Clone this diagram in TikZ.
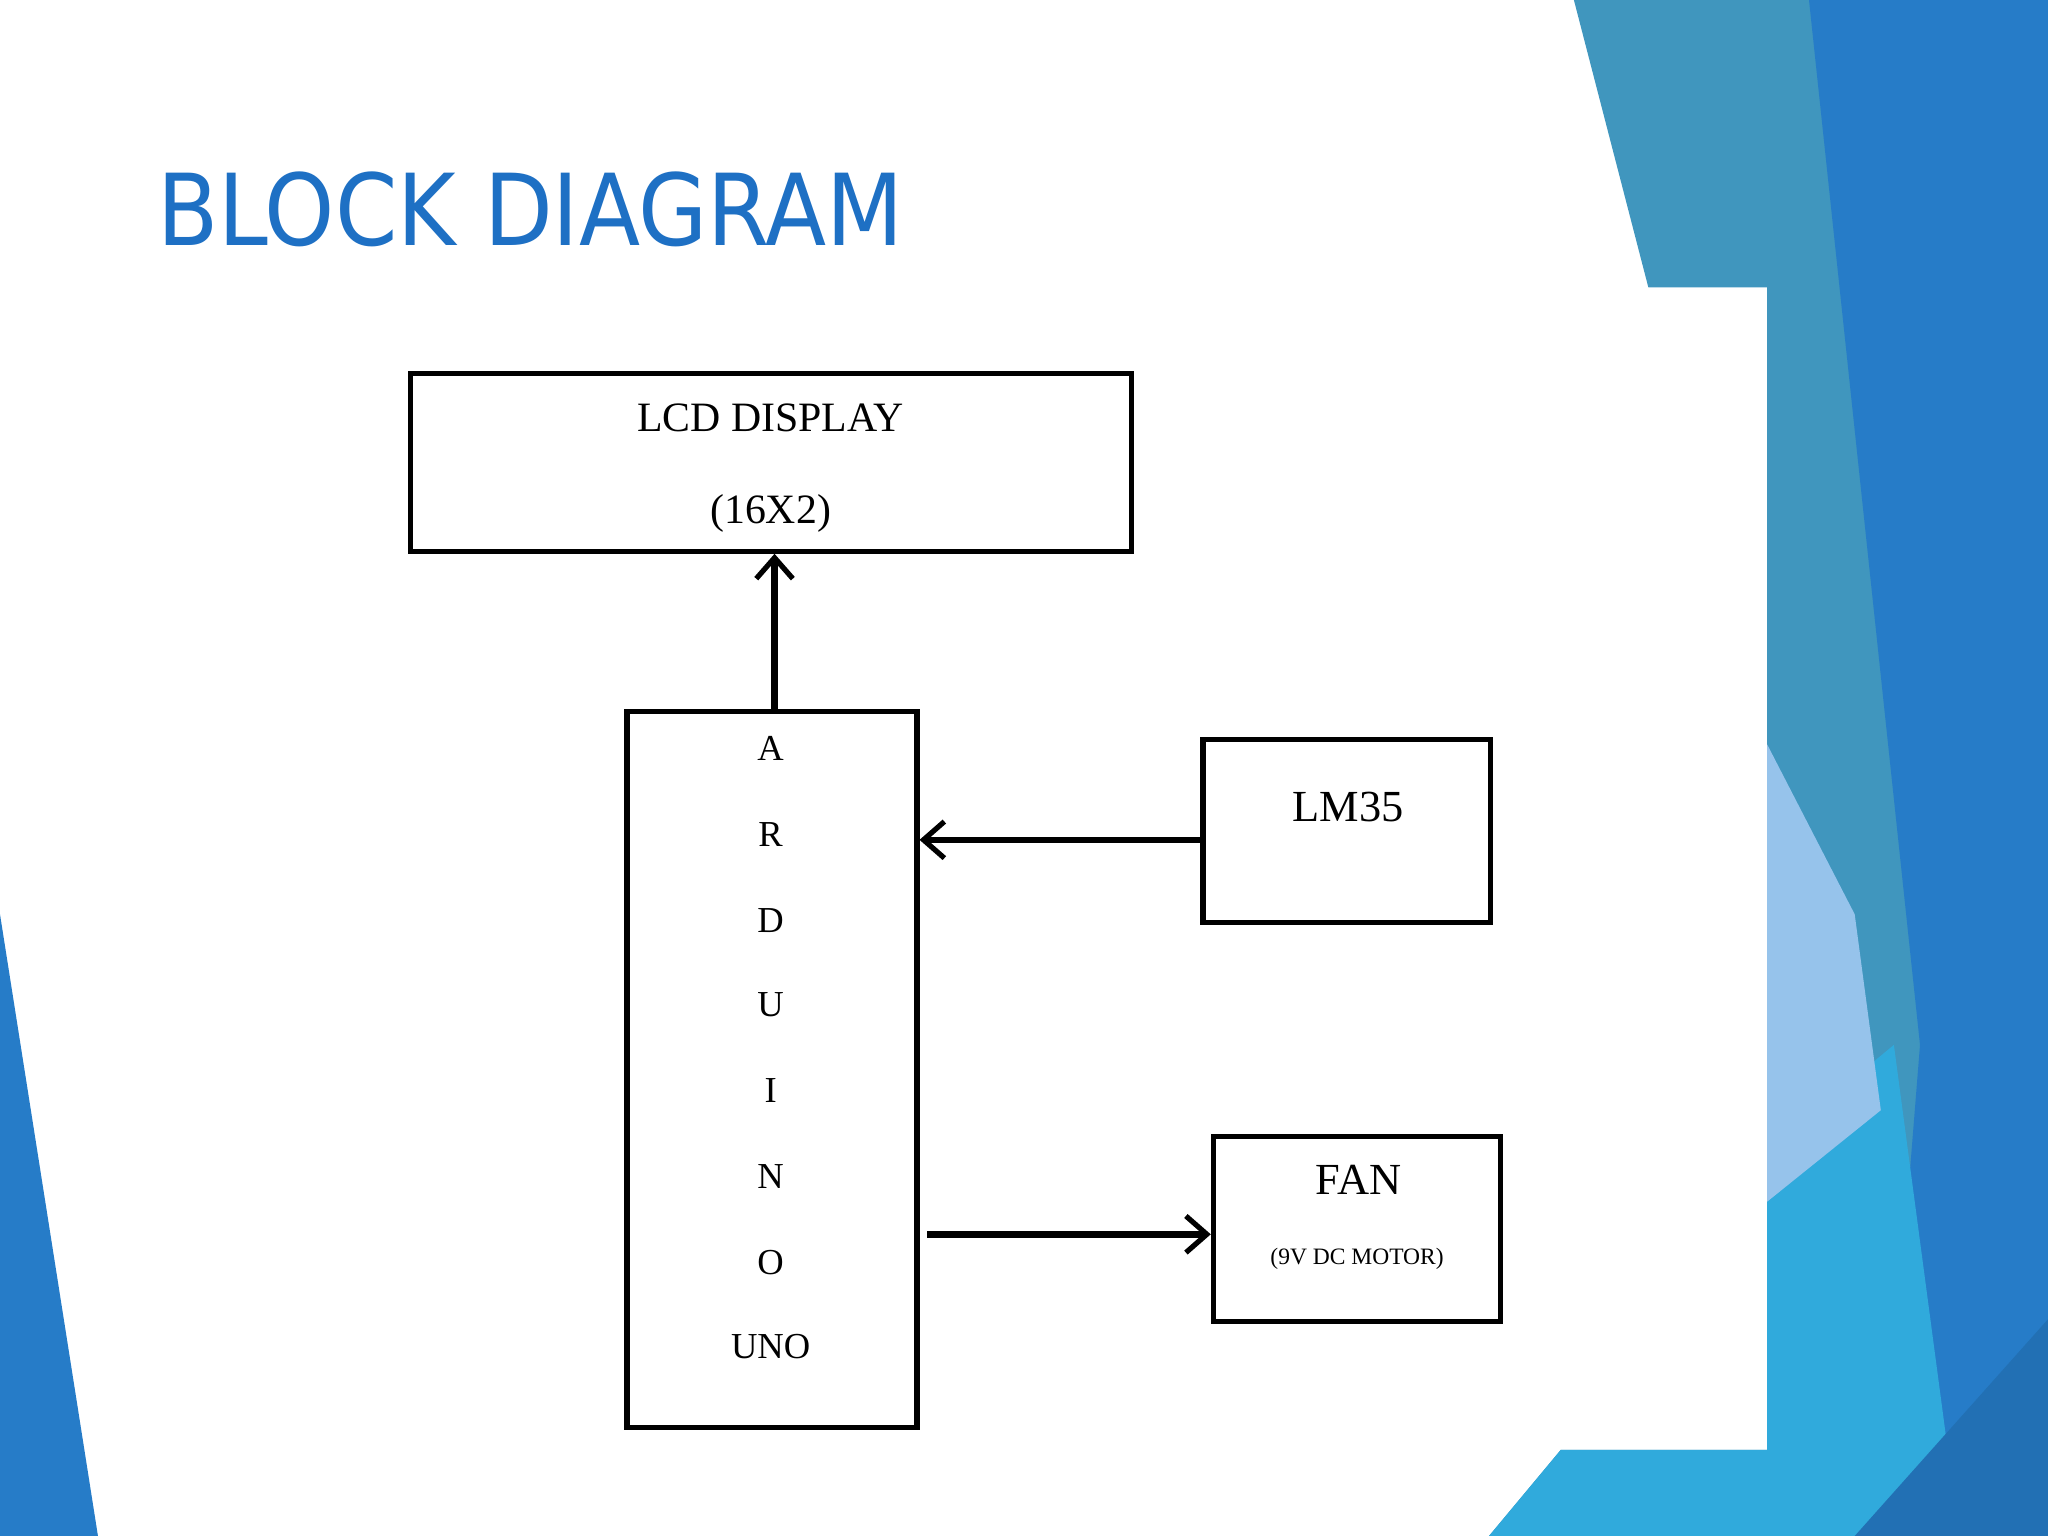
\documentclass[tikz,border=0pt]{standalone}
\usepackage{fontspec}
\setmainfont{Liberation Serif}
\newfontfamily\titlefont{DejaVu Sans Condensed}
\usetikzlibrary{arrows.meta}
\definecolor{titleblue}{RGB}{30,112,196}
\definecolor{bluea}{RGB}{38,124,200}
\definecolor{blueb}{RGB}{64,150,190}
\definecolor{bluec}{RGB}{48,170,220}
\definecolor{blued}{RGB}{150,195,235}
\tikzset{
  blk/.style={draw,line width=2pt,minimum width=#1},
  conn/.style={line width=2.5pt,-{Straight Barb[length=8pt,width=14pt,line width=2pt]}}
}
\begin{document}
\begin{tikzpicture}[x=0.5pt,y=-0.5pt]
\useasboundingbox (0,0) rectangle (1568,1176);
\fill[white] (0,0) rectangle (1568,1176);

%slide background
\fill[blueb] (1205,0) -- (1568,0) -- (1568,1176) -- (1140,1176) -- (1195,1110) -- (1353,1110) -- (1353,220) -- (1262,220) -- cycle;
\fill[bluea] (1385,0) -- (1568,0) -- (1568,1176) -- (1440,1176) -- (1470,800) -- cycle;
\fill[bluec] (1353,880) -- (1450,800) -- (1500,1176) -- (1140,1176) -- (1195,1110) -- (1353,1110) -- cycle;
\fill[blued] (1353,570) -- (1420,700) -- (1440,850) -- (1353,920) -- cycle;
\fill[bluea!90!black] (1420,1176) -- (1568,1010) -- (1568,1176) -- cycle;
\fill[bluea] (0,700) -- (75,1176) -- (0,1176) -- cycle;

%title
\node[anchor=base west,inner sep=0pt,text=titleblue,font=\titlefont\fontsize{38}{40}\selectfont] (title) at (120,188) {BLOCK DIAGRAM};

%blocks
\node[blk=276pt,minimum height=68pt] (lcd) at (590,354) {};
\node[font=\fontsize{16}{18}\selectfont] (lcdA) at (590,320) {LCD DISPLAY};
\node[font=\fontsize{16}{18}\selectfont] (lcdB) at (590,393) {(16X2)};
\node[blk=111pt,minimum height=274pt] (uno) at (591,819) {};
\foreach \t/\y [count=\i] in {A/573,R/639,D/705,U/769,I/835,N/901,O/967,UNO/1031}
  \node[font=\fontsize{14}{16}\selectfont] (l\i) at (590,\y) {\t};
\node[blk=110pt,minimum height=70pt] (lm) at (1031,636) {};
\node[font=\fontsize{17}{19}\selectfont] (lmT) at (1032,618) {LM35};
\node[blk=110pt,minimum height=71pt] (fan) at (1039,941) {};
\node[font=\fontsize{17}{19}\selectfont] (fanA) at (1040,903) {FAN};
\node[font=\fontsize{9}{11}\selectfont] (fanB) at (1039,964) {(9V DC MOTOR)};

%connectors
\draw[conn] (uno.north -| 593,0) -- (lcd.south -| 593,0);
\draw[conn] (lm.west |- 0,643) -- (uno.east |- 0,643);
\draw[conn] ([xshift=3pt]uno.east |- 0,945) -- (fan.west |- 0,945);
\end{tikzpicture}
\end{document}
